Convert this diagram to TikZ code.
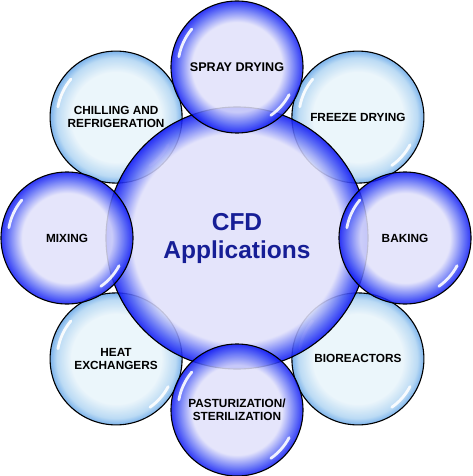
\documentclass[tikz,border=0pt]{standalone}
\usepackage{fontspec}
\setmainfont{Liberation Sans}
\usepackage{tikz}
\usetikzlibrary{positioning}
\usetikzlibrary{calc}
\definecolor{lavender}{RGB}{224,224,250}
\definecolor{midblue}{RGB}{85,100,246}
\definecolor{rimblue}{RGB}{10,20,245}
\definecolor{palecyan}{RGB}{232,244,250}
\definecolor{midcyan}{RGB}{175,212,242}
\definecolor{rimcyan}{RGB}{100,165,232}
\definecolor{titleblue}{RGB}{22,30,150}
\pgfdeclareradialshading{bluebub}{\pgfpoint{0bp}{0bp}}{color(0bp)=(lavender); color(17bp)=(lavender); color(22bp)=(midblue); color(25bp)=(rimblue); color(50bp)=(rimblue)}
\pgfdeclareradialshading{cyanbub}{\pgfpoint{0bp}{0bp}}{color(0bp)=(palecyan); color(17bp)=(palecyan); color(22.5bp)=(midcyan); color(25bp)=(rimcyan); color(50bp)=(rimcyan)}
\pgfdeclareradialshading{hubshade}{\pgfpoint{0bp}{0bp}}{color(0bp)=(lavender); color(20bp)=(lavender); color(23bp)=(midblue); color(25bp)=(rimblue); color(50bp)=(rimblue)}

\begin{document}
\begin{tikzpicture}[
        x=1pt, y=1pt,
        bubble/.style={circle, draw=black, line width=1.1pt, minimum size=132pt,
                       inner sep=0pt, align=center, fill opacity=0.85,
                       draw opacity=1, text opacity=1,
                       font=\bfseries\fontsize{11.8}{13.5}\selectfont,
                       path picture={
                         \draw[white, line width=2.8pt, line cap=round, opacity=0.9]
                           ($(path picture bounding box.center)+(140:59pt)$) arc (140:170:59pt);
                         \draw[white, line width=2.8pt, line cap=round, opacity=0.9]
                           ($(path picture bounding box.center)+(-55:59pt)$) arc (-55:-28:59pt);}},
        bluebubble/.style={bubble, shading=bluebub},
        cyanbubble/.style={bubble, shading=cyanbub},
        hub/.style={circle, draw=black, line width=1.1pt, minimum size=262pt,
                    align=center, shading=hubshade, fill opacity=0.88,
                    draw opacity=1, text opacity=1, text=titleblue,
                    font=\bfseries\fontsize{24.5}{28}\selectfont}
    ]
        \useasboundingbox (0,0) rectangle (473,-476);
        \coordinate (mid) at (237,-238);

        % diagonal bubbles go underneath the hub
        \node[cyanbubble] (chill) at ($(mid)+(135:171)$) {CHILLING AND\\REFRIGERATION};
        \node[cyanbubble] (freeze) at ($(mid)+(45:171)$) {FREEZE DRYING};
        \node[cyanbubble] (heat) at ($(mid)+(225:171)$) {HEAT\\EXCHANGERS};
        \node[cyanbubble] (bio) at ($(mid)+(-45:171)$) {BIOREACTORS};

        \node[hub] (cfd) at (mid) {CFD\\Applications};

        % the four on top
        \node[bluebubble, font=\bfseries\fontsize{12.6}{14}\selectfont] (spray) at ($(mid)+(90:171)$) {SPRAY DRYING};
        \node[bluebubble] (baking) at ($(mid)+(0:168)$) {BAKING};
        \node[bluebubble] (mixing) at ($(mid)+(180:170)$) {MIXING};
        \node[bluebubble] (pasteur) at ($(mid)+(270:172)$) {PASTURIZATION/\\STERILIZATION};
    \end{tikzpicture}
\end{document}
